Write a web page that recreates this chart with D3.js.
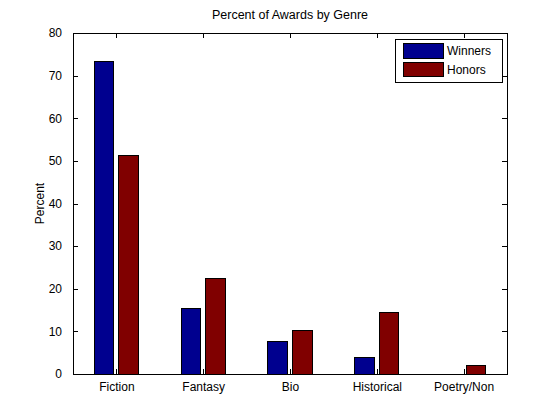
<!DOCTYPE html>
<html>
<head>
<meta charset="utf-8">
<script src="https://cdn.jsdelivr.net/npm/d3@7"></script>
<style>
  body { margin: 0; background: #fff; }
  text { font-family: "Liberation Sans", Arial, sans-serif; font-size: 11px; fill: #000; }
  rect, line { shape-rendering: crispEdges; }
</style>
</head>
<body>
<svg id="chart" width="560" height="420"></svg>
<script>
// data
const genres = ["Fiction", "Fantasy", "Bio", "Historical", "Poetry/Non"];
const winners = [73.2, 15.4, 7.7, 3.9, 0];
const honors = [51.3, 22.4, 10.2, 14.5, 2.0];
const seriesNames = ["Winners", "Honors"];
const seriesColors = ["#00008f", "#800000"];
const yTicks = [0, 10, 20, 30, 40, 50, 60, 70, 80];

const margin = {top: 33, right: 53, bottom: 46, left: 73};
const width = 560 - margin.left - margin.right;
const height = 420 - margin.top - margin.bottom;

const svg = d3.select("#chart");
const graph = svg.append("g")
  .attr("transform", "translate(" + margin.left + "," + margin.top + ")");

// category positions 1..5, axis runs 0.5..5.5 like matlab
const x = d3.scaleLinear().domain([0.5, genres.length + 0.5]).range([0, width]);
const y = d3.scaleLinear().domain([0, 80]).range([height, 0]);

const barW = 19.5;
const offset = 12.3;

const series = [winners, honors];
series.forEach(function(vals, s) {
  graph.selectAll(".bar" + s)
    .data(vals)
    .enter()
    .append("rect")
    .attr("class", "bar" + s)
    .attr("x", function(d, i) { return x(i + 1) + (s === 0 ? -offset : offset) - barW / 2; })
    .attr("width", barW)
    .attr("y", function(d) { return y(d); })
    .attr("height", function(d) { return height - y(d); })
    .attr("fill", seriesColors[s])
    .attr("stroke", "#000")
    .attr("stroke-width", 1)
    .style("display", function(d) { return d > 0 ? null : "none"; });
});

const tickLen = 5;
const xTickVals = genres.map(function(g, i) { return i + 1; });

// bottom axis, ticks inside
graph.append("g")
  .attr("transform", "translate(0," + height + ")")
  .call(d3.axisBottom(x).tickValues(xTickVals)
    .tickFormat(function(d) { return genres[d - 1]; })
    .tickSizeInner(-tickLen).tickSizeOuter(0).tickPadding(tickLen + 3))
  .call(function(g) { g.select(".domain").remove(); });

// top axis, ticks only
graph.append("g")
  .call(d3.axisTop(x).tickValues(xTickVals).tickFormat("")
    .tickSizeInner(-tickLen).tickSizeOuter(0))
  .call(function(g) { g.select(".domain").remove(); });

// left axis
graph.append("g")
  .call(d3.axisLeft(y).tickValues(yTicks)
    .tickSizeInner(-tickLen).tickSizeOuter(0).tickPadding(tickLen + 6))
  .call(function(g) { g.select(".domain").remove(); });

// right axis, ticks only
graph.append("g")
  .attr("transform", "translate(" + width + ",0)")
  .call(d3.axisRight(y).tickValues(yTicks).tickFormat("")
    .tickSizeInner(-tickLen).tickSizeOuter(0))
  .call(function(g) { g.select(".domain").remove(); });

graph.selectAll(".tick text").style("font-family", "Liberation Sans, Arial, sans-serif").style("font-size", "12px");
graph.selectAll(".tick line").attr("stroke", "#000");

// box
graph.append("rect")
  .attr("width", width)
  .attr("height", height)
  .attr("fill", "none")
  .attr("stroke", "#000")
  .attr("stroke-width", 1);

// title + y label
svg.append("text")
  .attr("x", margin.left + width / 2)
  .attr("y", 19)
  .attr("text-anchor", "middle")
  .style("font-size", "12.5px")
  .text("Percent of Awards by Genre");

svg.append("text")
  .attr("transform", "translate(44," + (margin.top + height / 2) + ") rotate(-90)")
  .attr("text-anchor", "middle")
  .style("font-size", "12px")
  .text("Percent");

// legend
const legend = svg.append("g").attr("transform", "translate(395,39)");
legend.append("rect")
  .attr("width", 107)
  .attr("height", 43)
  .attr("fill", "#fff")
  .attr("stroke", "#000");
seriesNames.forEach(function(name, i) {
  legend.append("rect")
    .attr("x", 8)
    .attr("y", 4.5 + i * 18.7)
    .attr("width", 40)
    .attr("height", 14.5)
    .attr("fill", seriesColors[i])
    .attr("stroke", "#000");
  legend.append("text")
    .attr("x", 52)
    .attr("y", 16 + i * 18.7)
    .style("font-size", "12px")
    .text(name);
});
</script>
</body>
</html>
